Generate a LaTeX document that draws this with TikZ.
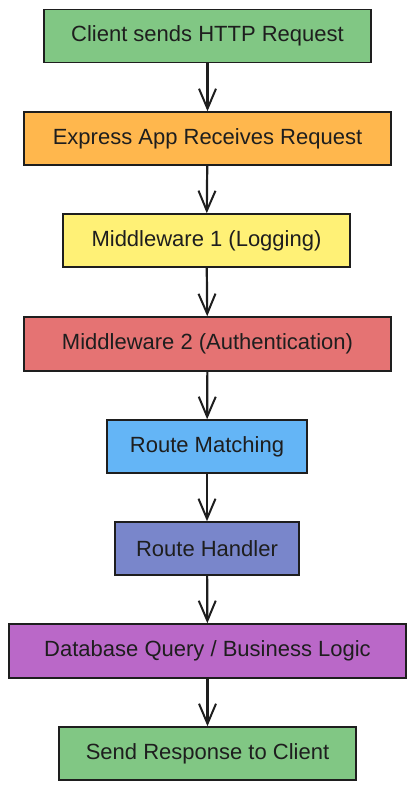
\documentclass[tikz,border=0pt]{standalone}
\usepackage{fontspec}
\setmainfont{Liberation Sans}
\usetikzlibrary{arrows.meta}
\definecolor{cgreen}{HTML}{81C784}
\definecolor{corange}{HTML}{FFB74D}
\definecolor{cyellow}{HTML}{FFF176}
\definecolor{cred}{HTML}{E57373}
\definecolor{cblue}{HTML}{64B5F6}
\definecolor{cindigo}{HTML}{7986CB}
\definecolor{cpurple}{HTML}{BA68C8}
\definecolor{ink}{HTML}{1E1E1E}
\begin{document}
\begin{tikzpicture}[x=1pt,y=-1pt,
  flowbox/.style={draw=ink, line width=1.5pt, rectangle, inner sep=0pt,
    minimum height=53pt, text=ink, font=\fontsize{22}{24}\selectfont},
  flowarrow/.style={draw=ink, line width=2.2pt,
    -{Straight Barb[length=20pt,width=17pt,line width=2pt]}}]
\useasboundingbox (0,0) rectangle (415,790);
\node[flowbox, fill=cgreen, minimum width=327pt] (b1) at (207.5,36) {Client sends HTTP Request};
\node[flowbox, fill=corange, minimum width=367pt] (b2) at (207.5,138.5) {Express App Receives Request};
\node[flowbox, fill=cyellow, minimum width=287pt] (b3) at (206.5,240.5) {Middleware 1 (Logging)};
\node[flowbox, fill=cred, minimum width=367pt, minimum height=54pt] (b4) at (207.5,344) {Middleware 2 (Authentication)};
\node[flowbox, fill=cblue, minimum width=200pt] (b5) at (207,446.5) {Route Matching};
\node[flowbox, fill=cindigo, minimum width=184pt] (b6) at (207,548.5) {Route Handler};
\node[flowbox, fill=cpurple, minimum width=397pt, minimum height=54pt] (b7) at (207.5,651) {Database Query / Business Logic};
\node[flowbox, fill=cgreen, minimum width=297pt] (b8) at (207.5,753.5) {Send Response to Client};
\draw[flowarrow] (b1) -- (b2);
\draw[flowarrow] (b2) -- (b3);
\draw[flowarrow] (b3) -- (b4);
\draw[flowarrow] (b4) -- (b5);
\draw[flowarrow] (b5) -- (b6);
\draw[flowarrow] (b6) -- (b7);
\draw[flowarrow] (b7) -- (b8);
\end{tikzpicture}
\end{document}
